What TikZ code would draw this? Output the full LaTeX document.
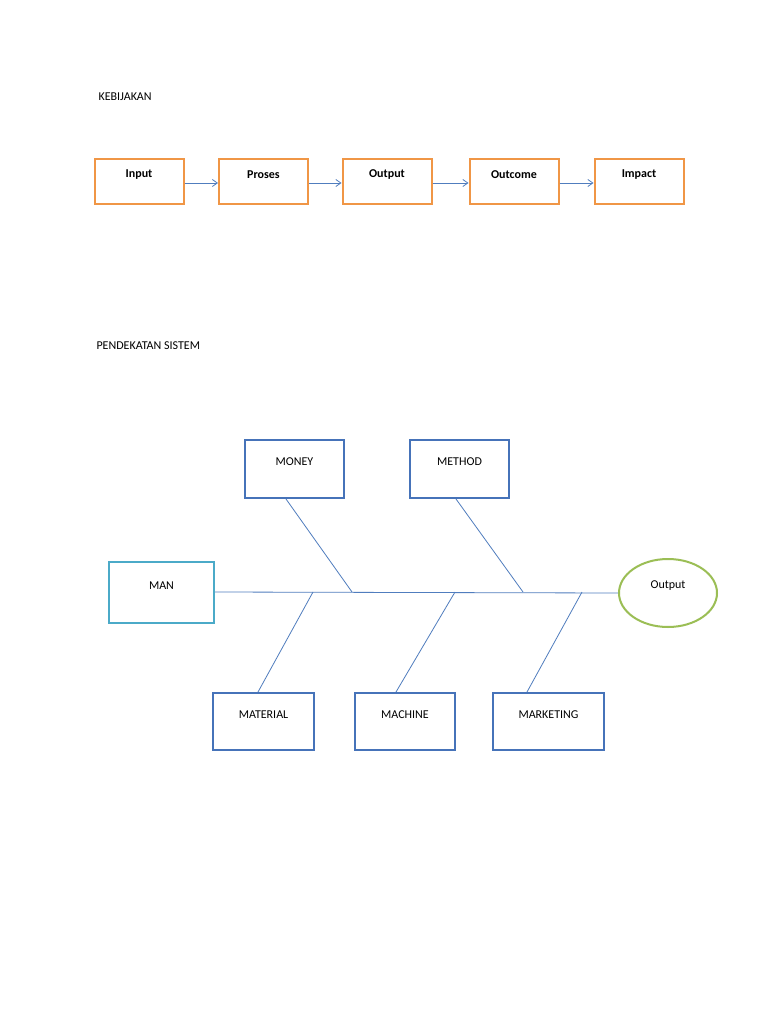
\documentclass[tikz,border=0pt]{standalone}
\usepackage{fontspec}
\setmainfont{Carlito}
\usetikzlibrary{arrows.meta,shapes.geometric}
\definecolor{org}{RGB}{240,150,70}
\definecolor{bl}{RGB}{70,115,185}
\definecolor{tl}{RGB}{75,170,200}
\definecolor{gr}{RGB}{155,190,85}
\definecolor{ln}{RGB}{80,125,190}
\tikzset{x=1pt,y=-1pt,
 obox/.style={draw=org,line width=2pt,minimum width=89pt,minimum height=45pt,inner sep=0pt},
 bbox/.style={draw=bl,line width=2pt,inner sep=0pt},
 lab/.style={font=\fontsize{12}{14}\selectfont},
 con/.style={draw=ln,line width=0.8pt},
 arr/.style={con,-{Straight Barb[length=5pt,width=7pt]}}}
\newcommand{\tbox}[5]{% name, x1,x2,y1,y2
 \node[bbox,minimum width=#3-#2,minimum height=#5-#4] (#1) at ({(#2+#3)/2},{(#4+#5)/2}) {};}
\begin{document}
\begin{tikzpicture}
\useasboundingbox (0,0) rectangle (768,1024);
\fill[white] (0,0) rectangle (768,1024);
\node[lab,anchor=west] (t1) at (95,97) {KEBIJAKAN};
\node[lab,anchor=west] (t2) at (93,346) {PENDEKATAN SISTEM};
\foreach \n/\x/\t in {a/139/Input,b/263.5/Proses,c/387/Output,d/514/Outcome,e/639/Impact}{
 \node[obox] (\n) at (\x,181.5) {};
 \node[lab] at (\x,175) {\textbf{\t}};}
\draw[arr] (a.east|-0,183) -- (b.west|-0,183);
\draw[arr] (b.east|-0,183) -- (c.west|-0,183);
\draw[arr] (c.east|-0,183) -- (d.west|-0,183);
\draw[arr] (d.east|-0,183) -- (e.west|-0,183);
\tbox{money}{245}{344}{440}{498}
\node[lab] at (294.5,462) {MONEY};
\tbox{method}{410}{509}{440}{498}
\node[lab] at (459.5,462) {METHOD};
\node[draw=tl,line width=2pt,minimum width=105pt,minimum height=61pt,inner sep=0pt] (man) at (161.5,592.5) {};
\node[lab] at (161.5,586) {MAN};
\node[draw=gr,line width=2pt,ellipse,minimum width=98pt,minimum height=68pt,inner sep=0pt] (out) at (668,593) {};
\node[lab] at (668,586) {Output};
\tbox{mat}{213}{314}{693}{750}
\node[lab] at (263.5,715) {MATERIAL};
\tbox{mac}{355}{455}{693}{750}
\node[lab] at (405,715) {MACHINE};
\tbox{mkt}{493}{604}{693}{750}
\node[lab] at (548.5,715) {MARKETING};
\coordinate (p1) at (352,592);
\coordinate (p2) at (523,592);
\coordinate (p3) at (313,592);
\coordinate (p4) at (455,592);
\coordinate (p5) at (582,592);
\draw[con] (man.east|-0,592) -- (out.west);
\draw[con] (286,499) -- (p1);
\draw[con] (456,499) -- (p2);
\draw[con] (258,692) -- (p3);
\draw[con] (396,692) -- (p4);
\draw[con] (527,692) -- (p5);
\end{tikzpicture}
\end{document}
